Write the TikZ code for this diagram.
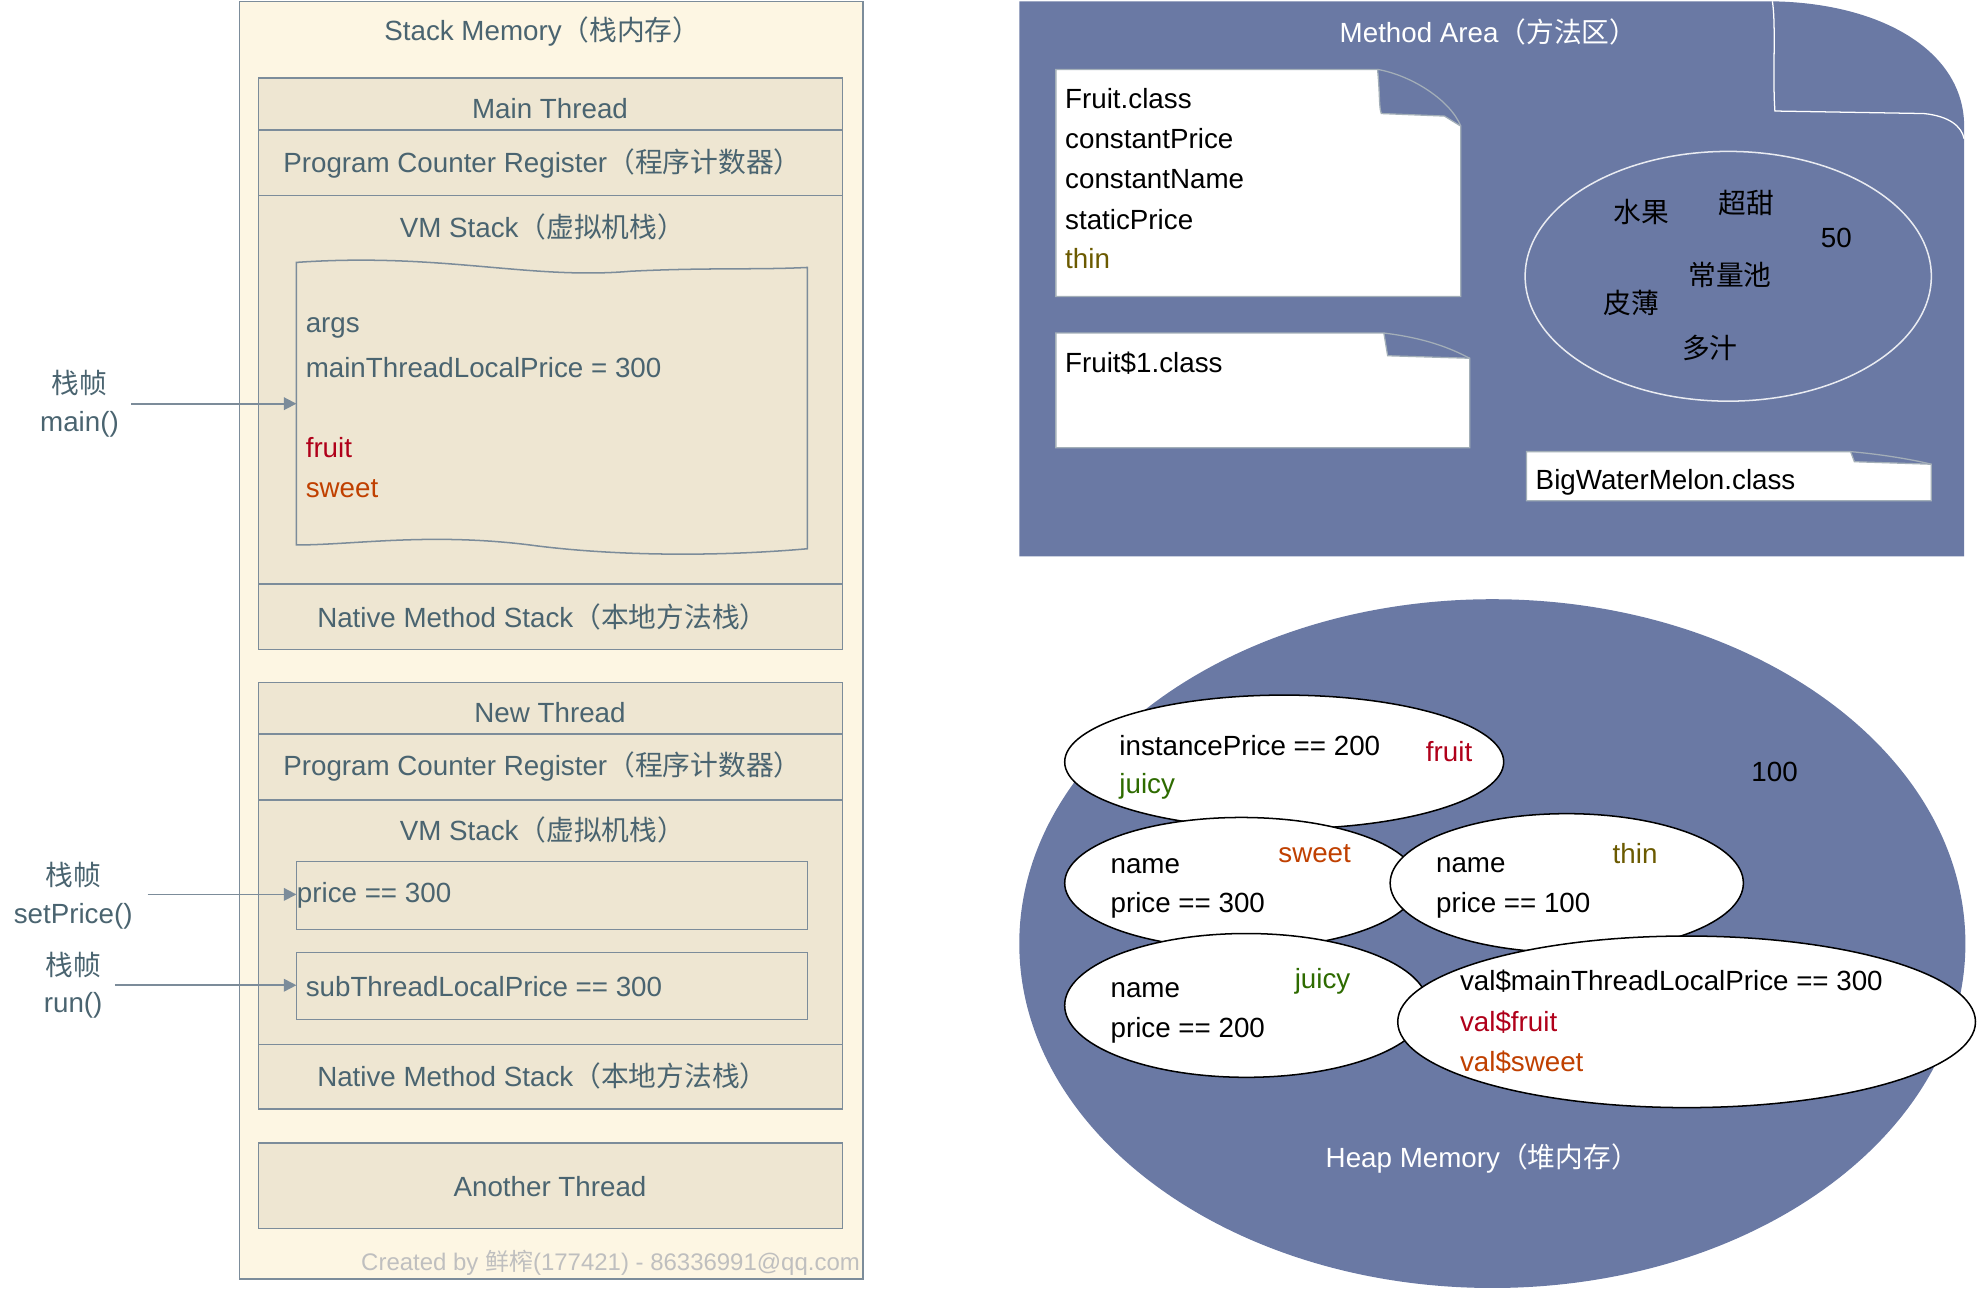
\documentclass[tikz,border=0pt]{standalone}
\usepackage{fontspec}
\setmainfont{Liberation Sans}
\newfontfamily\cjk{Noto Sans CJK SC}
\usetikzlibrary{shapes.geometric,arrows.meta}
\definecolor{tx}{HTML}{4A6470}
\definecolor{cream}{HTML}{FDF6E3}
\definecolor{box}{HTML}{EEE6D2}
\definecolor{bord}{HTML}{7C8C9A}
\definecolor{blu}{HTML}{6A79A4}
\definecolor{cred}{HTML}{B0001A}
\definecolor{corg}{HTML}{C04000}
\definecolor{cgrn}{HTML}{2E6B00}
\definecolor{colv}{HTML}{6B5A00}
\newcommand{\zh}[1]{{\cjk #1}}
\begin{document}
\begin{tikzpicture}[x=0.5pt,y=-0.5pt,
  every node/.style={font=\fontsize{11pt}{13pt}\selectfont},
  t/.style={text=tx,inner sep=0},
  l/.style={anchor=west,inner sep=0,text=black},
  bx/.style={draw=bord,fill=box,line width=0.6pt},
  note/.style={fill=white,draw=bord!70,line width=0.5pt},
  ell/.style={draw=black,fill=white,line width=0.6pt},
  arr/.style={draw=bord,line width=0.7pt,-{Triangle[length=5pt,width=5pt]}}]
\useasboundingbox (0,0) rectangle (1568,1024);
% Stack
\draw[draw=bord,fill=cream,line width=0.6pt] (190,1) rectangle (684,1014);
\node[t] (sm) at (430,25) {Stack Memory\zh{（栈内存）}};
\draw[bx] (205,62) rectangle (668,515);
\draw[bord,line width=0.6pt] (205,103)--(668,103) (205,155)--(668,155) (205,463)--(668,463);
\node[t] (mt) at (436,86) {Main Thread};
\node[t] (pc1) at (430,130) {Program Counter Register\zh{（程序计数器）}};
\node[t] (vm1) at (430,180) {VM Stack\zh{（虚拟机栈）}};
\node[t] (nm1) at (430,489) {Native Method Stack\zh{（本地方法栈）}};
\draw[bord,line width=0.6pt] (235,208) .. controls (350,200) and (420,222) .. (500,215) .. controls (560,212) and (600,214) .. (640,212) -- (640,435) .. controls (560,442) and (480,440) .. (420,432) .. controls (340,422) and (280,432) .. (235,432) -- cycle;
\coordinate (fr) at (235,320);
\node[t,anchor=west] (a1) at (242,260) {args};
\node[t,anchor=west] (a2) at (242,291) {mainThreadLocalPrice = 300};
\node[anchor=west,inner sep=0,text=cred] (a3) at (242,355) {fruit};
\node[anchor=west,inner sep=0,text=corg] (a4) at (242,387) {sweet};
\draw[bx] (205,541) rectangle (668,879);
\draw[bord,line width=0.6pt] (205,582)--(668,582) (205,634)--(668,634) (205,828)--(668,828);
\node[t] (nt) at (436,565) {New Thread};
\node[t] (pc2) at (430,608) {Program Counter Register\zh{（程序计数器）}};
\node[t] (vm2) at (430,658) {VM Stack\zh{（虚拟机栈）}};
\node[t] (nm2) at (430,853) {Native Method Stack\zh{（本地方法栈）}};
\draw[bord,line width=0.6pt] (235,683) rectangle (640,737) (235,755) rectangle (640,808);
\node[t,anchor=west] (p1) at (235,710) {price == 300};
\node[t,anchor=west] (p2) at (242,782) {subThreadLocalPrice == 300};
\coordinate (f2) at (235,709);
\coordinate (f3) at (235,781);
\draw[bx] (205,906) rectangle (668,974);
\node[t] (at) at (436,941) {Another Thread};
\node[inner sep=0,text=black!25,font=\fontsize{9.5pt}{10pt}\selectfont] (wm) at (484,1001) {Created by \zh{鲜榨}(177421) - 86336991@qq.com};
% labels
\node[t,align=center] (l1) at (63,320) {\zh{栈帧}\\[2pt]main()};
\node[t,align=center] (l2) at (58,710) {\zh{栈帧}\\[2pt]setPrice()};
\node[t,align=center] (l3) at (58,781) {\zh{栈帧}\\[2pt]run()};
\draw[arr] (104,320) -- (fr);
\draw[arr] (117,709) -- (f2);
\draw[arr] (91,781) -- (f3);
% Method area
\fill[blu] (808,1) -- (1400,1) .. controls (1490,1) and (1557,40) .. (1557,100) -- (1557,441) -- (808,441) -- cycle;
\draw[white,line width=0.5pt] (1405,1) .. controls (1408,20) and (1405,60) .. (1407,88) -- (1525,90) .. controls (1545,92) and (1555,100) .. (1557,110);
\node[inner sep=0,text=white] (ma) at (1180,25) {Method Area\zh{（方法区）}};
\draw[note] (837,55) -- (1092,55) .. controls (1094,75) and (1093,85) .. (1095,90) -- (1145,92) -- (1158,100) -- (1158,235) -- (837,235) -- cycle;
\draw[bord!70,line width=0.5pt] (1092,55) .. controls (1120,60) and (1150,80) .. (1158,100);
\node[l] (c1) at (844,78) {Fruit.class};
\node[l] (c2) at (844,110) {constantPrice};
\node[l] (c3) at (844,142) {constantName};
\node[l] (c4) at (844,174) {staticPrice};
\node[anchor=west,inner sep=0,text=colv] (c5) at (844,205) {thin};
\draw[note] (837,264) -- (1097,264) -- (1100,282) -- (1165,284) -- (1165,355) -- (837,355) -- cycle;
\draw[bord!70,line width=0.5pt] (1097,264) .. controls (1130,268) and (1150,276) .. (1165,284);
\node[l] (c6) at (844,288) {Fruit\$1.class};
\draw[note] (1210,358) -- (1467,358) -- (1470,366) -- (1531,368) -- (1531,397) -- (1210,397) -- cycle;
\draw[bord!70,line width=0.5pt] (1467,358) .. controls (1490,360) and (1515,364) .. (1531,368);
\node[l] (c7) at (1217,382) {BigWaterMelon.class};
\draw[white!85!blu,line width=0.6pt] (1370,219) ellipse [x radius=161,y radius=99];
\node[l] (k1) at (1279,168) {\zh{水果}};
\node[l] (k2) at (1362,161) {\zh{超甜}};
\node[l] (k3) at (1443,189) {50};
\node[l] (k4) at (1338,218) {\zh{常量池}};
\node[l] (k5) at (1271,240) {\zh{皮薄}};
\node[l] (k6) at (1333,276) {\zh{多汁}};
% Heap
\fill[blu] (1183,748) ellipse [x radius=375,y radius=273];
\node[inner sep=0,text=white] (hm) at (1175,918) {Heap Memory\zh{（堆内存）}};
\node[l] (h100) at (1388,612) {100};
\draw[ell] (1018,604) ellipse [x radius=174,y radius=53];
\node[l] (e1a) at (887,591) {instancePrice == 200};
\node[anchor=west,inner sep=0,text=cgrn] (e1b) at (887,623) {juicy};
\node[anchor=west,inner sep=0,text=cred] (e1c) at (1130,596) {fruit};
\draw[ell] (984,700) ellipse [x radius=140,y radius=52];
\node[l] (e2a) at (880,687) {name};
\node[l] (e2b) at (880,718) {price == 300};
\node[anchor=west,inner sep=0,text=corg] (e2c) at (1013,677) {sweet};
\draw[ell] (1242,700) ellipse [x radius=140,y radius=55];
\node[l] (e3a) at (1138,686) {name};
\node[l] (e3b) at (1138,718) {price == 100};
\node[anchor=west,inner sep=0,text=colv] (e3c) at (1278,677) {thin};
\draw[ell] (988,797) ellipse [x radius=144,y radius=57];
\node[l] (e4a) at (880,785) {name};
\node[l] (e4b) at (880,817) {price == 200};
\node[anchor=west,inner sep=0,text=cgrn] (e4c) at (1026,778) {juicy};
\draw[ell] (1337,810) ellipse [x radius=229,y radius=68];
\node[l] (e5a) at (1157,778) {val\$mainThreadLocalPrice == 300};
\node[anchor=west,inner sep=0,text=cred] (e5b) at (1157,810) {val\$fruit};
\node[anchor=west,inner sep=0,text=corg] (e5c) at (1157,842) {val\$sweet};
\end{tikzpicture}
\end{document}
